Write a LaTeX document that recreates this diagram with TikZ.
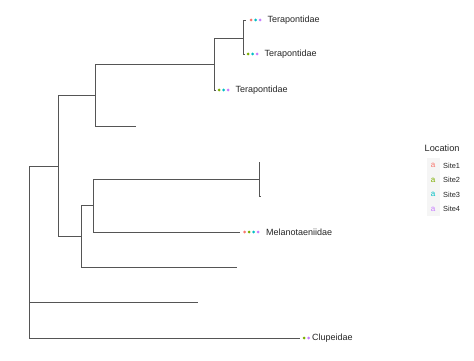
\documentclass[tikz,border=0pt]{standalone}
\usepackage{fontspec}
\setmainfont{Liberation Sans}
\definecolor{siteA}{HTML}{F8766D}
\definecolor{siteB}{HTML}{7CAE00}
\definecolor{siteC}{HTML}{00BFC4}
\definecolor{siteD}{HTML}{C77CFF}
\definecolor{treeline}{HTML}{555555}
\tikzset{
  branch/.style={draw=treeline, line width=0.8pt},
  tiplabel/.style={anchor=west, inner sep=0pt, font=\fontsize{9}{10}\selectfont, text=black!85},
  tipdot/.style={circle, inner sep=0pt, minimum size=3pt},
  legtitle/.style={anchor=west, inner sep=0pt, font=\fontsize{9.2}{10}\selectfont, text=black!85},
  legtext/.style={anchor=west, inner sep=0pt, font=\fontsize{7.4}{8}\selectfont, text=black!85},
  legkey/.style={inner sep=0pt, font=\fontsize{8}{8}\selectfont}
}
\begin{document}
\begin{tikzpicture}[x=1pt,y=-1pt]
\useasboundingbox (0,0) rectangle (474,361);
\fill[white] (0,0) rectangle (474,361);
% internal nodes (junction points)
\coordinate (R) at (29.5,166);
\coordinate (A) at (58,166);
\coordinate (B) at (95.7,95);
\coordinate (C) at (214.7,64);
\coordinate (D) at (243.7,38);
\coordinate (E) at (81,236);
\coordinate (F) at (93.7,205.7);
\coordinate (G) at (259.3,179);
% tips
\coordinate (t1) at (246,20);
\coordinate (t2) at (244.5,54);
\coordinate (t3) at (215,90);
\coordinate (t4) at (135.7,126);
\coordinate (t5) at (259.3,161.7);
\coordinate (t6) at (260.7,196.7);
\coordinate (t7) at (240,232);
\coordinate (t8) at (236.7,267.3);
\coordinate (t9) at (198,302.7);
\coordinate (t10) at (300,338);
% branches
\draw[branch] (R) -- (A);
\draw[branch] (R) |- (t9);
\draw[branch] (R) |- (t10);
\draw[branch] (A) |- (B);
\draw[branch] (A) |- (E);
\draw[branch] (B) |- (C);
\draw[branch] (B) |- (t4);
\draw[branch] (C) |- (D);
\draw[branch] (C) |- (t3);
\draw[branch] (D) |- (t1);
\draw[branch] (D) |- (t2);
\draw[branch] (E) |- (F);
\draw[branch] (E) |- (t8);
\draw[branch] (F) |- (G);
\draw[branch] (F) |- (t7);
\draw[branch] (G) |- (t5);
\draw[branch] (G) |- (t6);
% tip dots and labels
\node[tipdot, fill=siteA] (d11) at (251,20) {};
\node[tipdot, fill=siteC] (d12) at (255.5,20) {};
\node[tipdot, fill=siteD] (d13) at (260,20) {};
\node[tiplabel] (l1) at (267.5,20) {Terapontidae};
\node[tipdot, fill=siteB] (d21) at (248,54) {};
\node[tipdot, fill=siteC] (d22) at (252.5,54) {};
\node[tipdot, fill=siteD] (d23) at (257,54) {};
\node[tiplabel] (l2) at (264.5,54) {Terapontidae};
\node[tipdot, fill=siteB] (d31) at (219,90) {};
\node[tipdot, fill=siteC] (d32) at (223.5,90) {};
\node[tipdot, fill=siteD] (d33) at (228,90) {};
\node[tiplabel] (l3) at (235.5,90) {Terapontidae};
\node[tipdot, fill=siteA] (d71) at (244.5,232) {};
\node[tipdot, fill=siteB] (d72) at (249,232) {};
\node[tipdot, fill=siteC] (d73) at (253.5,232) {};
\node[tipdot, fill=siteD] (d74) at (258,232) {};
\node[tiplabel] (l7) at (266,232) {Melanotaeniidae};
\node[tipdot, fill=siteB] (d101) at (304,338) {};
\node[tipdot, fill=siteD] (d102) at (308.5,338) {};
\node[tiplabel] (l10) at (312,338) {Clupeidae};
% legend
\node[legtitle] (lt) at (424.5,148) {Location};
\fill[black!4] (426.5,158) rectangle (439.5,216);
\node[legkey, text=siteA] (k1) at (433,165.5) {a};
\node[legkey, text=siteB] (k2) at (433,180) {a};
\node[legkey, text=siteC] (k3) at (433,194.5) {a};
\node[legkey, text=siteD] (k4) at (433,209) {a};
\node[legtext] (s1) at (443,165.5) {Site1};
\node[legtext] (s2) at (443,180) {Site2};
\node[legtext] (s3) at (443,194.5) {Site3};
\node[legtext] (s4) at (443,209) {Site4};
\end{tikzpicture}
\end{document}
